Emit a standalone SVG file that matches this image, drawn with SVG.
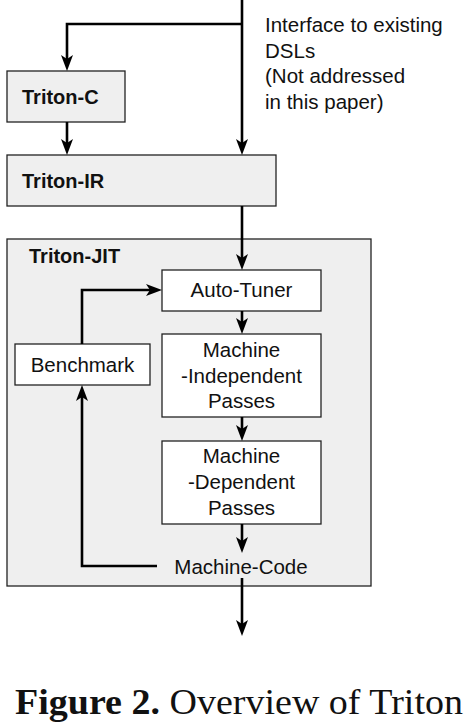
<svg xmlns="http://www.w3.org/2000/svg" width="469" height="728" viewBox="0 0 469 728">
<style>
.box{stroke:#222;stroke-width:1.3}
.gray{fill:#efefef}
.white{fill:#fff}
.b{font-family:"Liberation Sans",Arial,sans-serif;font-weight:bold;font-size:20px;fill:#111}
.r{font-family:"Liberation Sans",Arial,sans-serif;font-size:20.5px;fill:#111}
.c{text-anchor:middle}
.conn{fill:none;stroke:#000;stroke-width:2.6;stroke-linejoin:miter}
.cap{font-family:"Liberation Serif","Times New Roman",serif;font-size:36px;fill:#111}
</style>
<defs>
<marker id="ah" markerUnits="userSpaceOnUse" markerWidth="20" markerHeight="14" refX="10" refY="7" orient="auto">
<path d="M0,1 L16,7 L0,13 L4,7 Z" fill="#000"/>
</marker>
</defs>
<rect width="469" height="728" fill="#fff"/>
<g id="triton-jit"><rect class="box gray" x="7" y="239" width="364" height="347"/><text class="b" x="29" y="263">Triton-JIT</text></g>
<g id="triton-c"><rect class="box gray" x="7" y="71" width="118" height="51"/><text class="b" x="22" y="104">Triton-C</text></g>
<g id="triton-ir"><rect class="box gray" x="7" y="155" width="269" height="51"/><text class="b" x="22" y="188">Triton-IR</text></g>
<g id="auto-tuner"><rect class="box white" x="162" y="270" width="159" height="41"/><text class="r c" x="241.5" y="297">Auto-Tuner</text></g>
<g id="benchmark"><rect class="box white" x="15" y="344" width="135" height="41"/><text class="r c" x="82.5" y="372">Benchmark</text></g>
<g id="mip"><rect class="box white" x="162" y="334" width="159" height="83"/><text class="r c" x="241.5" y="357">Machine</text><text class="r c" x="241.5" y="383">-Independent</text><text class="r c" x="241.5" y="408">Passes</text></g>
<g id="mdp"><rect class="box white" x="162" y="441" width="159" height="83"/><text class="r c" x="241.5" y="463">Machine</text><text class="r c" x="241.5" y="489">-Dependent</text><text class="r c" x="241.5" y="515">Passes</text></g>
<g id="machine-code"><text class="r c" x="241" y="574">Machine-Code</text></g>
<g id="dsl-note"><text class="r" x="265" y="32">Interface to existing</text><text class="r" x="265" y="57.5">DSLs</text><text class="r" x="265" y="83">(Not addressed</text><text class="r" x="265" y="108.5">in this paper)</text></g>
<g id="connectors">
<path class="conn" d="M242,0 V149" marker-end="url(#ah)"/>
<path class="conn" d="M242,24 H67 V65" marker-end="url(#ah)"/>
<path class="conn" d="M67,122 V149" marker-end="url(#ah)"/>
<path class="conn" d="M242,206 V264" marker-end="url(#ah)"/>
<path class="conn" d="M82,344 V290 H156" marker-end="url(#ah)"/>
<path class="conn" d="M242,311 V328" marker-end="url(#ah)"/>
<path class="conn" d="M242,417 V435" marker-end="url(#ah)"/>
<path class="conn" d="M242,524 V547" marker-end="url(#ah)"/>
<path class="conn" d="M157,566 H82 V391" marker-end="url(#ah)"/>
<path class="conn" d="M242,578 V630" marker-end="url(#ah)"/>
</g>
<g id="caption"><text class="cap" x="15" y="714" textLength="448" lengthAdjust="spacingAndGlyphs"><tspan font-weight="bold">Figure 2.</tspan> Overview of Triton</text></g>
</svg>
